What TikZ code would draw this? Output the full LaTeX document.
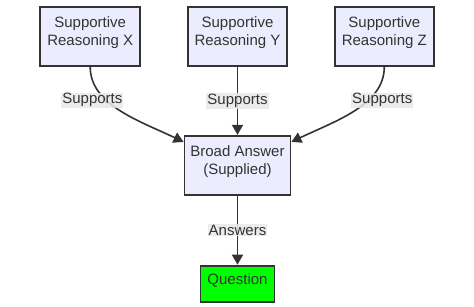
\documentclass[tikz,border=0pt]{standalone}
\usepackage{fontspec}
\setmainfont{Liberation Sans}
\usepackage{xcolor}
\usetikzlibrary{arrows.meta,positioning}
\definecolor{mmdfill}{HTML}{ECECFF}
\definecolor{mmdline}{HTML}{333333}
\definecolor{mmdlabel}{HTML}{E8E8E8}
\definecolor{mmdgreen}{HTML}{00FF00}
\tikzset{
  reason/.style={draw=mmdline, fill=mmdfill, line width=1.8pt, align=center, inner sep=3pt, minimum width=99pt, minimum height=59pt, text=mmdline, font=\fontsize{15}{18}\selectfont, execute at end node={\rule[-10pt]{0pt}{10pt}}},
  question/.style={reason, fill=mmdgreen, minimum width=74pt, minimum height=36pt},
  flow/.style={-{Triangle[length=10pt,width=11pt]}, line width=1.6pt, draw=mmdline},
  info/.style={fill=mmdlabel, fill opacity=0.85, text opacity=1, text=mmdline, inner sep=1pt, font=\fontsize{15}{18}\selectfont}
}

\begin{document}
\begin{tikzpicture}[node distance=46pt]
  \useasboundingbox (0,0) rectangle (474pt,-306pt);
  \node[reason] (sy) at (237.5pt,-36.5pt) {Supportive\\Reasoning Y};
  \node[reason, minimum width=100pt, left=of sy] (sx) {Supportive\\Reasoning X};
  \node[reason, right=of sy] (sz) {Supportive\\Reasoning Z};
  \node[reason, minimum width=106pt, below=68pt of sy] (ba) {Broad Answer\\(Supplied)};
  \node[question, below=69pt of ba] (q) {Question};
  \draw[flow] (sx.south) .. controls +(0,-38pt) and +(-44pt,21pt) .. node[info, pos=0.33, xshift=-12pt, yshift=-2pt]{Supports} ([yshift=-7pt]ba.north west);
  \draw[flow] (sy) -- node[info]{Supports} (ba);
  \draw[flow] (sz.south) .. controls +(0,-38pt) and +(44pt,21pt) .. node[info, pos=0.33, xshift=12pt, yshift=-2pt]{Supports} ([yshift=-7pt]ba.north east);
  \draw[flow] (ba) -- node[info]{Answers} (q);
\end{tikzpicture}
\end{document}
